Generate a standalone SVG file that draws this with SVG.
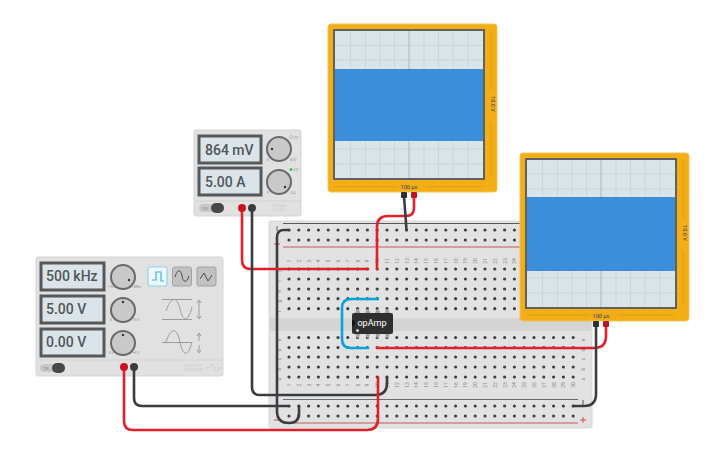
<svg xmlns="http://www.w3.org/2000/svg" width="725" height="453" viewBox="0 0 725 453">
<style>
text{font-family:Roboto,"Liberation Sans",sans-serif}
.w{fill:none;stroke-width:2.600;stroke-linecap:round;stroke-linejoin:round}
.r{stroke:#e3202a}.k{stroke:#3a3d40}.b{stroke:#0aa2d8}
.h{fill:none;stroke:#3d4145;stroke-width:3.200;stroke-linecap:round;stroke-dasharray:0 9.8}
.n{font-size:5px;fill:#85878a;text-anchor:middle}
.d{fill:#dbe5e9;stroke:#55595b;stroke-width:3}
.dt{font-size:14px;font-weight:500;fill:#50565a}
.knob{fill:#c9c9c9;stroke:#666a6e;stroke-width:2}
.p{fill:#e1e1e1;stroke:#d5d5d5;stroke-width:1}
.t{font-size:3.500px;fill:#8a8a8a;text-anchor:middle}
.o{fill:#f3ae15;stroke:#f0c35d;stroke-width:1}
.s{fill:#dae4e9;stroke:#5c6264;stroke-width:2}
.g{stroke:#ccd6d9;stroke-width:1;fill:none}
.gc{stroke:#bcc4c5;stroke-width:1.400;fill:none}
.tk{stroke:#dd9c12;stroke-width:1;fill:none}
.sl{font-size:5.500px;font-weight:500;fill:#50565a;text-anchor:middle}
.sym{fill:none;stroke:#9a9d9f;stroke-width:1}
.btn{fill:#c2c2c2;stroke:#a2a2a2;stroke-width:1}
</style>
<g id="breadboard">
<rect x="269" y="221" width="323" height="207" rx="2" fill="#e2e2e2" stroke="#d6d6d6"/>
<rect x="270" y="318" width="321" height="13" fill="#d5d5d5"/>
<path d="M283 223.500H520" stroke="#55595c" stroke-width="1"/>
<path d="M283 247H520" stroke="#c65757" stroke-width="1"/>
<path d="M283 399.500H578" stroke="#6b6e70" stroke-width="1"/>
<path d="M283 423H578" stroke="#c65757" stroke-width="1"/>
<path class="h" d="M289 230H574M289 240H574M289 269H574M289 279H574M289 289H574M289 298.700H574M289 308.700H574M289 337.500H574M289 347.500H574M289 357H574M289 367H574M289 377H574M289 406H574M289 416H574"/>
<path d="M277 226v5" stroke="#666" stroke-width="1"/>
<path d="M274 244h6M274 420h6" stroke="#c65757" stroke-width="1"/>
<path d="M583 400v6" stroke="#555" stroke-width="1"/>
<path d="M580 420h6M583 417v6" stroke="#c65757" stroke-width="1"/>
<g class="n">
<text transform="rotate(-90 291 261)" x="291" y="261">1</text><text transform="rotate(-90 301 261)" x="301" y="261">2</text><text transform="rotate(-90 311 261)" x="311" y="261">3</text><text transform="rotate(-90 320 261)" x="320" y="261">4</text><text transform="rotate(-90 330 261)" x="330" y="261">5</text><text transform="rotate(-90 340 261)" x="340" y="261">6</text><text transform="rotate(-90 350 261)" x="350" y="261">7</text><text transform="rotate(-90 360 261)" x="360" y="261">8</text><text transform="rotate(-90 369 261)" x="369" y="261">9</text><text transform="rotate(-90 379 261)" x="379" y="261">10</text><text transform="rotate(-90 389 261)" x="389" y="261">11</text><text transform="rotate(-90 399 261)" x="399" y="261">12</text><text transform="rotate(-90 409 261)" x="409" y="261">13</text><text transform="rotate(-90 418 261)" x="418" y="261">14</text><text transform="rotate(-90 428 261)" x="428" y="261">15</text><text transform="rotate(-90 438 261)" x="438" y="261">16</text><text transform="rotate(-90 448 261)" x="448" y="261">17</text><text transform="rotate(-90 458 261)" x="458" y="261">18</text><text transform="rotate(-90 467 261)" x="467" y="261">19</text><text transform="rotate(-90 477 261)" x="477" y="261">20</text><text transform="rotate(-90 487 261)" x="487" y="261">21</text><text transform="rotate(-90 497 261)" x="497" y="261">22</text><text transform="rotate(-90 507 261)" x="507" y="261">23</text><text transform="rotate(-90 516 261)" x="516" y="261">24</text>
<text transform="rotate(-90 291 385)" x="291" y="385">1</text><text transform="rotate(-90 301 385)" x="301" y="385">2</text><text transform="rotate(-90 311 385)" x="311" y="385">3</text><text transform="rotate(-90 320 385)" x="320" y="385">4</text><text transform="rotate(-90 330 385)" x="330" y="385">5</text><text transform="rotate(-90 340 385)" x="340" y="385">6</text><text transform="rotate(-90 350 385)" x="350" y="385">7</text><text transform="rotate(-90 360 385)" x="360" y="385">8</text><text transform="rotate(-90 369 385)" x="369" y="385">9</text><text transform="rotate(-90 379 385)" x="379" y="385">10</text><text transform="rotate(-90 389 385)" x="389" y="385">11</text><text transform="rotate(-90 399 385)" x="399" y="385">12</text><text transform="rotate(-90 409 385)" x="409" y="385">13</text><text transform="rotate(-90 418 385)" x="418" y="385">14</text><text transform="rotate(-90 428 385)" x="428" y="385">15</text><text transform="rotate(-90 438 385)" x="438" y="385">16</text><text transform="rotate(-90 448 385)" x="448" y="385">17</text><text transform="rotate(-90 458 385)" x="458" y="385">18</text><text transform="rotate(-90 467 385)" x="467" y="385">19</text><text transform="rotate(-90 477 385)" x="477" y="385">20</text><text transform="rotate(-90 487 385)" x="487" y="385">21</text><text transform="rotate(-90 497 385)" x="497" y="385">22</text><text transform="rotate(-90 507 385)" x="507" y="385">23</text><text transform="rotate(-90 516 385)" x="516" y="385">24</text><text transform="rotate(-90 526 385)" x="526" y="385">25</text><text transform="rotate(-90 536 385)" x="536" y="385">26</text><text transform="rotate(-90 546 385)" x="546" y="385">27</text><text transform="rotate(-90 556 385)" x="556" y="385">28</text><text transform="rotate(-90 565 385)" x="565" y="385">29</text><text transform="rotate(-90 575 385)" x="575" y="385">30</text>
<text transform="rotate(-90 281 271)" x="281" y="271">j</text><text transform="rotate(-90 281 281)" x="281" y="281">i</text><text transform="rotate(-90 281 291)" x="281" y="291">h</text><text transform="rotate(-90 281 301)" x="281" y="301">g</text><text transform="rotate(-90 281 311)" x="281" y="311">f</text>
<text transform="rotate(-90 281 340)" x="281" y="340">e</text><text transform="rotate(-90 281 350)" x="281" y="350">d</text><text transform="rotate(-90 281 359)" x="281" y="359">c</text><text transform="rotate(-90 281 369)" x="281" y="369">b</text><text transform="rotate(-90 281 379)" x="281" y="379">a</text>
<text transform="rotate(-90 585 340)" x="585" y="340">e</text><text transform="rotate(-90 585 350)" x="585" y="350">d</text><text transform="rotate(-90 585 359)" x="585" y="359">c</text><text transform="rotate(-90 585 369)" x="585" y="369">b</text><text transform="rotate(-90 585 379)" x="585" y="379">a</text>
</g>
</g>
<g id="opamp">
<path d="M355 313l2-4h1.500l2 4zM365 313l2-4h1.500l2 4zM375 313l2-4h1.500l2 4zM384.500 313l2-4h1.500l2 4zM355 333l2 5h1.500l2-5zM365 333l2 5h1.500l2-5zM375 333l2 5h1.500l2-5zM384.500 333l2 5h1.500l2-5z" fill="#a3a3a3"/>
<rect x="352" y="313" width="41" height="21" rx="2" fill="#2f2f31"/>
<text x="372" y="326" font-size="9" fill="#fff" text-anchor="middle">opAmp</text>
<circle cx="357.500" cy="330.500" r="1.300" fill="#fff"/>
<path d="M352 320a3 3 0 0 1 0 6z" fill="#111"/>
</g>
<g id="oscilloscope-1">
<rect x="328" y="24" width="169" height="168" rx="3" class="o"/>
<rect x="334" y="30" width="150" height="149" class="s"/>
<path class="g" d="M350.500 31V178M365.500 31V178M380 31V178M394.500 31V178M424 31V178M438.500 31V178M453 31V178M468 31V178M335 45.500H483M335 60H483M335 149H483M335 164H483"/>
<path class="gc" d="M409 31V178"/>
<rect x="335" y="69" width="148" height="72" fill="#3b8ed8"/>
<path class="tk" d="M335 186.500H398M426 186.500H482M491 32V90M491 122V176"/>
<text x="409" y="189" class="sl">100 µs</text>
<text x="491" y="104" class="sl" transform="rotate(90 491 104)">10.0 V</text>
</g>
<g id="oscilloscope-2">
<rect x="520" y="153" width="169" height="168" rx="3" class="o"/>
<rect x="526" y="159" width="150" height="149" class="s"/>
<path class="g" d="M542.500 160V307M557.500 160V307M572 160V307M586.500 160V307M616 160V307M630.500 160V307M645 160V307M660 160V307M527 174H675M527 189H675M527 278H675M527 293H675"/>
<path class="gc" d="M601 160V307"/>
<rect x="527" y="197" width="148" height="74" fill="#3b8ed8"/>
<path class="tk" d="M527 315H590M618 315H674M683 161V219M683 251V305"/>
<text x="601" y="317.500" class="sl">100 µs</text>
<text x="683" y="233" class="sl" transform="rotate(90 683 233)">10.0 V</text>
</g>
<g id="power-supply">
<rect x="194" y="130" width="107" height="86" rx="2" class="p"/>
<path d="M195 201H300" stroke="#d3d3d3"/>
<rect x="199" y="136" width="62" height="27" class="d"/>
<text x="205" y="155" class="dt">864 mV</text>
<rect x="199" y="168" width="62" height="27" class="d"/>
<text x="205" y="187" class="dt">5.00 A</text>
<circle cx="279" cy="149" r="12" class="knob"/><circle cx="272" cy="149" r="1.200" fill="#333"/>
<circle cx="279" cy="182" r="12" class="knob"/><circle cx="285" cy="187" r="1.200" fill="#333"/>
<text x="268" y="161" class="t">0</text><text x="293" y="161" class="t">30 V</text>
<text x="268" y="194" class="t">0</text><text x="293" y="194" class="t">5 A</text>
<circle cx="291" cy="137" r="1.500" fill="none" stroke="#aaa" stroke-width=".6"/><text x="296" y="138.500" class="t">CV</text>
<circle cx="291" cy="169.500" r="1.600" fill="#35d03f"/><text x="296" y="171" class="t">CC</text>
<rect x="199" y="204" width="25" height="8" rx="4" fill="#c8c8c8"/><rect x="211" y="203" width="13" height="10" rx="5" fill="#44484b"/>
<text x="205" y="209.500" class="t">ON</text>
<text x="279" y="207" class="t" style="fill:#cdcdcd">VOLTAGE</text><text x="279" y="211" class="t" style="fill:#cdcdcd">SUPPLY</text>
</g>
<g id="function-generator">
<rect x="36" y="257" width="187" height="119" rx="2" class="p"/>
<path d="M37 360H222" stroke="#d3d3d3"/>
<rect x="41" y="263" width="63" height="27" class="d"/><text x="46" y="281" class="dt">500 kHz</text>
<rect x="41" y="296" width="63" height="27" class="d"/><text x="46" y="314" class="dt">5.00 V</text>
<rect x="41" y="329" width="63" height="27" class="d"/><text x="46" y="347" class="dt">0.00 V</text>
<circle cx="123" cy="277" r="12" class="knob"/><circle cx="129" cy="280" r="1.200" fill="#333"/>
<circle cx="123" cy="310" r="12" class="knob"/><circle cx="123" cy="302" r="1.200" fill="#333"/>
<circle cx="123" cy="343" r="12" class="knob"/><circle cx="123" cy="335" r="1.200" fill="#333"/>
<text x="111" y="288" class="t">1 Hz</text><text x="136" y="288" class="t">1 MHz</text>
<text x="111" y="321" class="t">0</text><text x="136" y="321" class="t">10 V</text>
<text x="111" y="354" class="t">-5 V</text><text x="136" y="354" class="t">+5 V</text>
<rect x="148" y="267" width="19" height="19" rx="2" fill="#eef8fd" stroke="#8fd4f0" stroke-width="1.200"/>
<path d="M152 280h4v-8h5v9h3" fill="none" stroke="#35b4e8" stroke-width="1.200"/>
<rect x="172.500" y="267" width="19" height="19" rx="2" class="btn"/>
<path d="M175 277c2-8 6-8 7-1s5 7 7 0" fill="none" stroke="#4c5053" stroke-width="1"/>
<rect x="197" y="267" width="19" height="19" rx="2" class="btn"/>
<path d="M200 279l4-6 4 8 4-6" fill="none" stroke="#4c5053" stroke-width="1"/>
<path class="sym" d="M162 299.500H192M162 319.500H192M166 311c5-15 11-15 14-2s8 14 12-2M199 301V318M197 303l2-3 2 3M197 316l2 3 2-3"/>
<path class="sym" d="M162 342.500H192M166 342c5-15 11-15 14 0s8 15 12 0M199 334V341M197 336l2-3 2 3M199 345V352M197 350l2 3 2-3"/>
<rect x="40" y="364" width="25" height="8" rx="4" fill="#c8c8c8"/><rect x="52" y="363" width="13" height="10" rx="5" fill="#44484b"/>
<text x="46" y="369.500" class="t">ON</text>
<text x="193" y="367" class="t" style="fill:#cdcdcd">FUNCTION</text><text x="193" y="371" class="t" style="fill:#cdcdcd">GENERATOR</text>
<path d="M205 368h4c2-5 4-5 5 0s3 5 5 0h3" fill="none" stroke="#c5c5c5" stroke-width=".8"/>
</g>
<g id="connectors">
<path class="w k" d="M289 230H284Q277 230 277 237V411Q277 423 289 423Q299 423 299 413V406"/>
<path class="w r" d="M242 208V260Q242 269 251 269H368"/>
<path class="w k" d="M252 208V387Q252 395 260 395H375Q387 395 387 383V377"/>
<path class="w k" d="M134 367V398Q134 406 142 406H289"/>
<path class="w r" d="M124 367V421Q124 430 133 430H367Q378 430 378 419V377"/>
<path class="w r" d="M414 196V208Q414 216 406 216H388Q377 216 377 227V269"/>
<path class="w k" d="M404 196L406.500 230"/>
<path class="w b" d="M378 299H351Q342 299 342 308V339Q342 348 351 348H368"/>
<path class="w r" d="M606 325V336Q606 348 594 348H377"/>
<path class="w k" d="M596 325V394Q596 406 584 406H573"/>
<rect x="401" y="192" width="6" height="6" rx="1" fill="#2d2f31"/><rect x="411" y="192" width="6" height="6" rx="1" fill="#b8171f"/>
<rect x="593" y="321" width="6" height="6" rx="1" fill="#2d2f31"/><rect x="603" y="321" width="6" height="6" rx="1" fill="#b8171f"/>
<circle cx="242" cy="208" r="4" fill="#c5161f"/><circle cx="252" cy="208" r="4" fill="#3a3d40"/>
<circle cx="124" cy="367" r="4" fill="#c5161f"/><circle cx="134" cy="367" r="4" fill="#3a3d40"/>
</g>
</svg>
